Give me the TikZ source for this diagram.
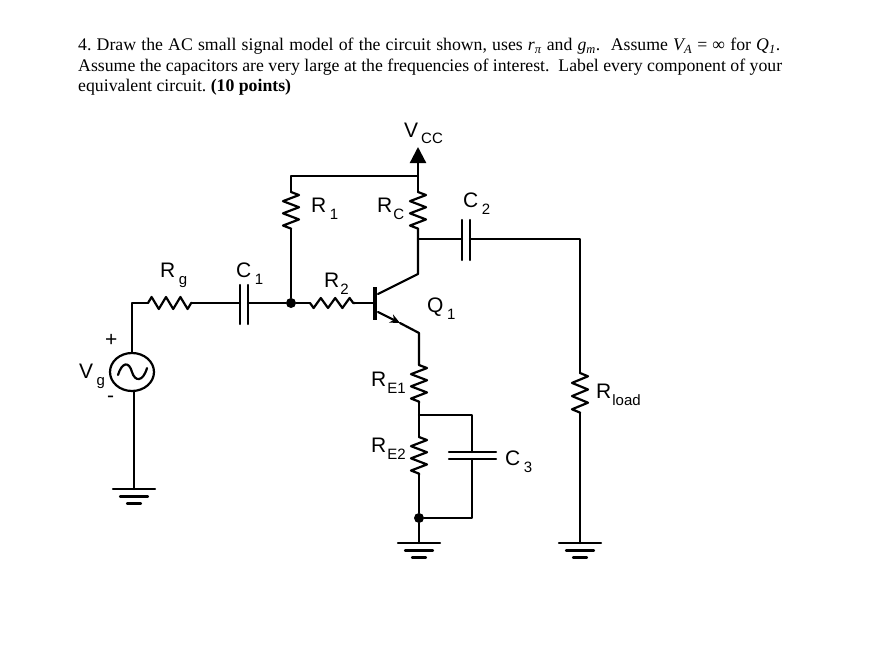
\documentclass[tikz,border=0pt]{standalone}
\usepackage{fontspec}
\setmainfont{Liberation Serif}
\setsansfont{Liberation Sans}
\usetikzlibrary{arrows.meta,decorations.pathmorphing,shapes.geometric}
\newcommand{\lab}[2]{#1\kern1pt\raisebox{-7.5pt}{\fontsize{15}{15}\selectfont #2}}
\tikzset{
	wire/.style={line width=2.2pt, line cap=round, line join=round},
	res/.style={wire, decorate, decoration={zigzag, segment length=12.2pt, amplitude=8pt}},
	resh/.style={wire, decorate, decoration={zigzag, segment length=14.4pt, amplitude=6pt}},
	dot/.style={circle, fill=black, inner sep=0pt, minimum size=10pt},
	lbl/.style={anchor=base west, inner sep=0pt, font=\sffamily\fontsize{21}{21}\selectfont},
	txt/.style={anchor=base west, inner sep=0pt, font=\fontsize{17.75}{17.75}\selectfont\frenchspacing},
}
\begin{document}
\begin{tikzpicture}[x=1pt, y=-1pt]
	\useasboundingbox (0, 0) rectangle (889, 669);

	% question text
	\node[txt] (line1) at (78, 51) {\makebox[702pt][s]{4. Draw the AC small signal model of the circuit shown, uses \textit{r\textsubscript{π}} and \textit{g\textsubscript{m}}.\ \ Assume \textit{V\textsubscript{A}} = ∞ for \textit{Q\textsubscript{1}}.}};
	\node[txt] (line2) at (78, 71.5) {Assume the capacitors are very large at the frequencies of interest.\ \ Label every component of your};
	\node[txt] (line3) at (78, 92) {equivalent circuit. \textbf{(10 points)}};

	% junctions and resistor ends
	\coordinate (vcc) at (418, 147);
	\coordinate (top) at (418, 176);
	\coordinate (topl) at (291, 176);
	\coordinate (r1a) at (291, 192);
	\coordinate (r1b) at (291, 229);
	\coordinate (rca) at (418, 192);
	\coordinate (rcb) at (418, 229);
	\coordinate (out) at (418, 239);
	\coordinate (coll) at (418, 274);
	\coordinate (bc) at (378, 294);
	\coordinate (be) at (378, 312);
	\coordinate (emid) at (400, 323);
	\coordinate (emit) at (419, 333);
	\coordinate (re1a) at (419, 365);
	\coordinate (re1b) at (419, 403);
	\coordinate (mid) at (419, 415);
	\coordinate (midr) at (472, 415);
	\coordinate (re2a) at (419, 437);
	\coordinate (re2b) at (419, 475);
	\coordinate (botr) at (472, 518);

	% supply, collector and emitter legs
	\draw[wire, -{Triangle[length=16pt, width=16pt]}] (top) -- (vcc);
	\draw[wire] (r1a) -- (topl) -- (top) -- (rca);
	\draw[res] (r1a) -- (r1b);
	\draw[res] (rca) -- (rcb);
	\draw[wire] (rcb) -- (coll) -- (bc);
	\draw[wire, -{Stealth[length=10pt, width=9pt]}] (be) -- (emid);
	\draw[wire] (emid) -- (emit) -- (re1a);
	\draw[res] (re1a) -- (re1b);
	\draw[wire] (re1b) -- (re2a);
	\draw[res] (re2a) -- (re2b);

	% base
	\node[dot] (bnode) at (291, 303) {};
	\coordinate (basein) at (375, 303);
	\coordinate (bara) at (375, 287);
	\coordinate (barb) at (375, 320);
	\coordinate (r2a) at (310, 303);
	\coordinate (r2b) at (355, 303);
	\draw[wire] (r1b) -- (bnode);
	\draw[wire] (bnode) -- (r2a);
	\draw[resh, decoration={amplitude=5pt, mirror}] (r2a) -- (r2b);
	\draw[wire] (r2b) -- (basein);
	\draw[line width=4.5pt] (bara) -- (barb);

	% source and input side
	\node[draw, ellipse, line width=2.2pt, minimum width=44pt, minimum height=38pt, inner sep=0pt] (vg) at (132, 372) {};
	\coordinate (corner) at (132, 303);
	\coordinate (rga) at (148, 303);
	\coordinate (rgb) at (192, 303);
	\coordinate (c1a) at (240, 303);
	\coordinate (c1b) at (248, 303);
	\draw[wire] (vg) -- (corner) -- (rga);
	\draw[resh] (rga) -- (rgb);
	\draw[wire] (rgb) -- (c1a);
	\draw[wire] (c1b) -- (bnode);
	\draw[wire] (240, 285) -- (240, 324);
	\draw[wire] (248, 285) -- (248, 324);
	\draw[wire] (118, 375) .. controls (122, 362) and (129, 361) .. (132, 372) .. controls (135, 382) and (143, 382) .. (147, 368);

	% output side
	\coordinate (c2a) at (462, 239);
	\coordinate (c2b) at (470, 239);
	\coordinate (outr) at (580, 239);
	\coordinate (rla) at (580, 373);
	\coordinate (rlb) at (580, 413);
	\draw[wire] (out) -- (c2a);
	\draw[wire] (c2b) -- (outr) -- (rla);
	\draw[wire] (462, 220) -- (462, 260);
	\draw[wire] (470, 220) -- (470, 260);
	\draw[res, decoration={segment length=13.2pt}] (rla) -- (rlb);

	% bypass capacitor
	\node[dot] (bot) at (419, 518) {};
	\coordinate (c3a) at (472, 452);
	\coordinate (c3b) at (472, 459);
	\draw[wire] (mid) -- (midr) -- (c3a);
	\draw[wire] (c3b) -- (botr) -- (bot);
	\draw[wire] (re2b) -- (bot);
	\draw[wire] (449, 452) -- (496, 452);
	\draw[wire] (449, 459) -- (496, 459);

	% grounds
	\coordinate (g1) at (134, 489);
	\coordinate (g2) at (419, 543);
	\coordinate (g3) at (580, 543);
	\draw[wire] (vg.south -| g1) -- (g1);
	\draw[wire] (bot) -- (g2);
	\draw[wire] (rlb) -- (g3);
	\foreach \gx/\gy in {134/489, 419/543, 580/543} {
		\draw[wire] (\gx-21, \gy) -- (\gx+21, \gy);
		\draw[wire] (\gx-14, \gy+7.5) -- (\gx+14, \gy+7.5);
		\draw[wire] (\gx-7, \gy+14.5) -- (\gx+7, \gy+14.5);
	}

	% labels
	\node[lbl] (lvcc) at (404, 137) {V\kern3pt\raisebox{-6pt}{\fontsize{15}{15}\selectfont CC}};
	\node[lbl] (lr1) at (311, 212) {\lab{R}{\,1}};
	\node[lbl] (lrc) at (377, 212) {\lab{R}{C}};
	\node[lbl] (lc2) at (463, 207) {\lab{C}{\,2}};
	\node[lbl] (lr2) at (324, 287) {\lab{R}{2}};
	\node[lbl] (lq1) at (427, 312) {\lab{Q}{\,1}};
	\node[lbl] (lrg) at (160, 277) {\lab{R}{\,g}};
	\node[lbl] (lc1) at (236, 277) {\lab{C}{\,1}};
	\node[lbl] (lvg) at (79, 378) {\lab{V}{\,g}};
	\node[lbl] (lre1) at (371, 386) {\lab{R}{E1}};
	\node[lbl] (lre2) at (371, 452) {\lab{R}{E2}};
	\node[lbl] (lc3) at (505, 465) {\lab{C}{\,3}};
	\node[lbl] (lrl) at (596, 398) {\lab{R}{load}};
	\node[lbl] (lplus) at (105, 346) {+};
	\node[lbl] (lminus) at (107, 402) {-};
\end{tikzpicture}
\end{document}
